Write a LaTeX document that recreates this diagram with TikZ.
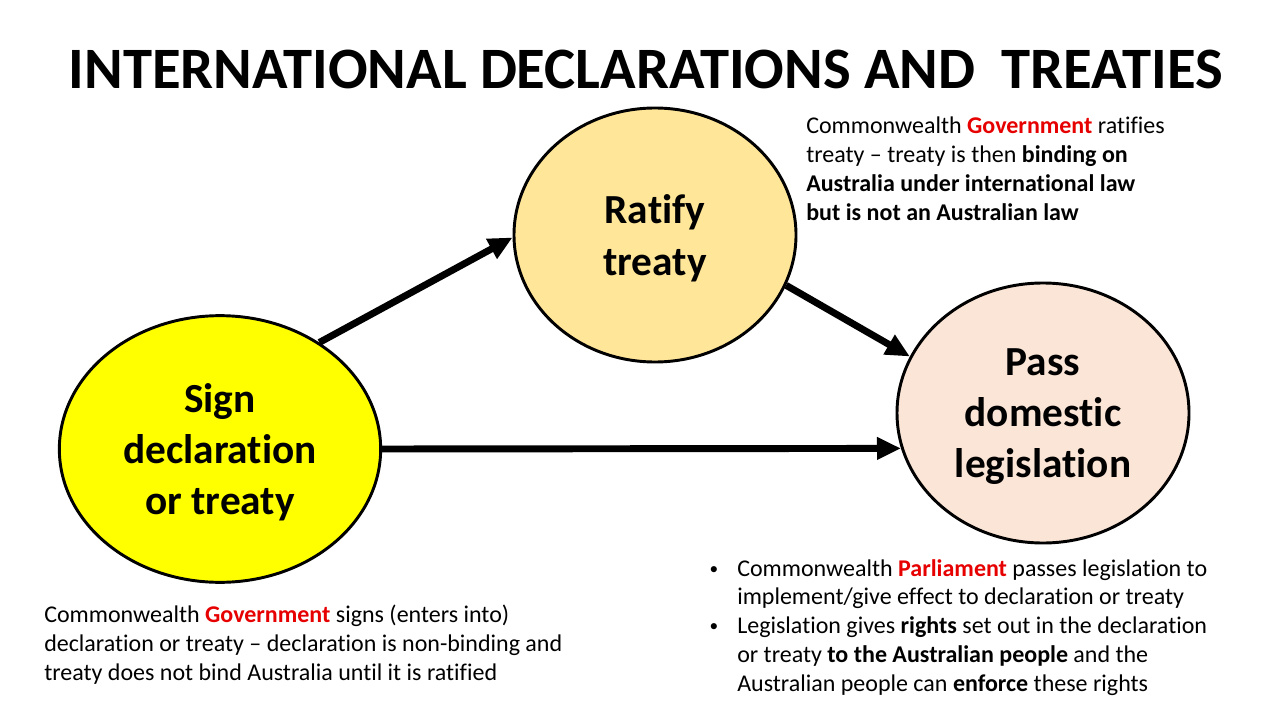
\documentclass[tikz,border=0pt]{standalone}
\usepackage{fontspec}
\setmainfont{Carlito}[Ligatures={CommonOff,ContextualOff}]
\usepackage{tikz}
\usetikzlibrary{shapes.geometric,arrows.meta,positioning}
\definecolor{signyellow}{RGB}{255,255,0}
\definecolor{ratifygold}{RGB}{255,230,153}
\definecolor{passpink}{RGB}{251,229,214}
\definecolor{govred}{RGB}{230,0,0}
\newcommand{\redword}[1]{\textcolor{govred}{\textbf{#1}}}
\newcommand{\bulletline}{\makebox[21.75pt][l]{\hspace*{1pt}\raisebox{1.5pt}{\fontsize{13}{13}\selectfont\textbullet}}}
\newcommand{\indentline}{\hspace*{21.75pt}}

\begin{document}
\begin{tikzpicture}[x=0.75pt,y=0.75pt,
  stage/.style={ellipse,draw=black,line width=2.2pt,inner sep=0pt,align=center,text depth=0pt,font=\fontsize{31}{38.5}\selectfont\bfseries},
  link/.style={line width=5.2pt,-{Triangle[length=18pt,width=16pt]}},
  note/.style={anchor=north west,inner sep=0pt,align=left,font=\fontsize{18}{21.6}\selectfont}]
\useasboundingbox (0,0) rectangle (1280,-720);
%title
\node[font=\fontsize{44}{50}\selectfont\bfseries] (title) at (646,-69) {INTERNATIONAL DECLARATIONS AND\ \ TREATIES};
%the three stages
\node[stage,fill=signyellow,minimum width=241pt,minimum height=200pt] (sign) at (220,-449) {Sign\\declaration\\or treaty};
\node[stage,fill=ratifygold,minimum width=211.5pt,minimum height=190.5pt] (ratify) at (655,-235) {Ratify\\treaty};
\node[stage,fill=passpink,minimum width=219pt,minimum height=195pt] (pass) at (1043,-413) {Pass\\domestic\\legislation};
%arrows between stages
\draw[link] (sign.47) -- (ratify.181);
\draw[link] (ratify.-21) -- (pass.157);
\draw[link] (sign.0) -- (pass.194);
%notes
\node[note] (ratifynote) at (806,-117) {Commonwealth \redword{Government} ratifies\\treaty -- treaty is then \textbf{binding on}\\\textbf{Australia under international law}\\\textbf{but is not an Australian law}};
\node[note] (signnote) at (44,-605) {Commonwealth \redword{Government} signs (enters into)\\declaration or treaty -- declaration is non-binding and\\treaty does not bind Australia until it is ratified};
\node[note] (passnote) at (708,-559) {\bulletline Commonwealth \redword{Parliament} passes legislation to\\\indentline implement/give effect to declaration or treaty\\\bulletline Legislation gives \textbf{rights} set out in the declaration\\\indentline or treaty \textbf{to the Australian people} and the\\\indentline Australian people can \textbf{enforce} these rights};
\end{tikzpicture}
\end{document}
